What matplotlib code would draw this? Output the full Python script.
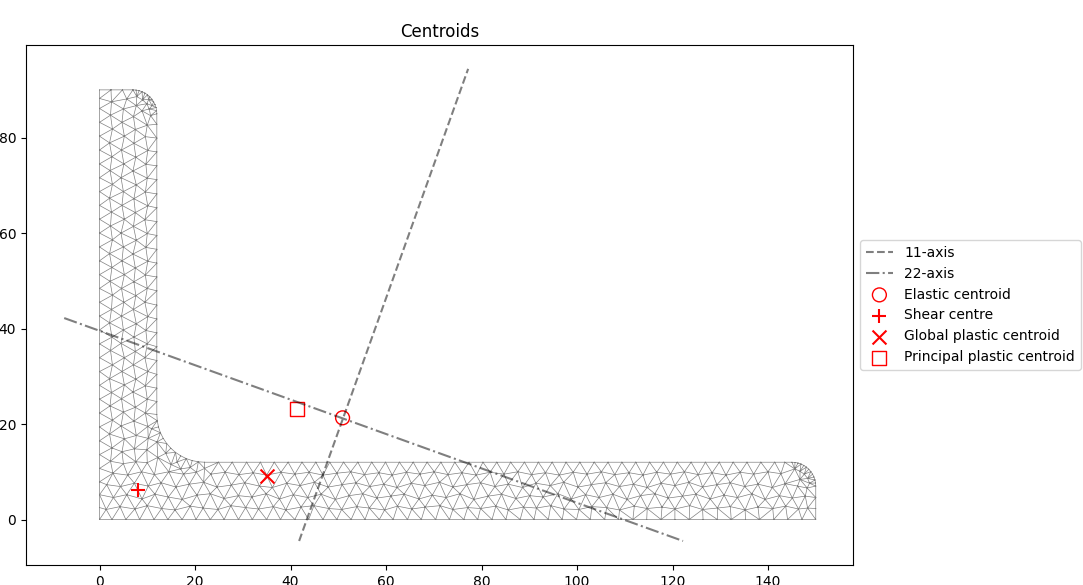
import matplotlib

matplotlib.use("Agg")
import matplotlib.pyplot as plt
import matplotlib.tri as mtri
import numpy as np
from matplotlib.path import Path

# Section outline (x, y)
top_toe_arc = [(7, 90), (7.65, 89.96), (8.29, 89.83), (8.91, 89.62), (9.5, 89.33), (10.04, 88.97), (10.54, 88.54),
               (10.97, 88.04), (11.33, 87.5), (11.62, 86.91), (11.83, 86.29), (11.96, 85.65), (12, 85)]
web_right = [(12, 82.8), (12, 79.9), (12, 77), (12, 74.1), (12, 71.2), (12, 68.2), (12, 65.3), (12, 62.4), (12, 59.5),
             (12, 56.6), (12, 53.7), (12, 50.8), (12, 47.9), (12, 44.9), (12, 42), (12, 39.1), (12, 36.2), (12, 33.3),
             (12, 30.4), (12, 27.5), (12, 24.7)]
root_arc = [(12, 22), (12.09, 20.69), (12.34, 19.41), (12.76, 18.17), (13.34, 17), (14.07, 15.91), (14.93, 14.93),
            (15.91, 14.07), (17, 13.34), (18.17, 12.76), (19.41, 12.34), (20.69, 12.09), (22, 12)]
flange_top = [(24.9, 12), (27.8, 12), (30.8, 12), (33.7, 12), (36.6, 12), (39.5, 12), (42.4, 12), (45.3, 12),
              (48.2, 12), (51.1, 12), (54.1, 12), (57, 12), (59.9, 12), (62.8, 12), (65.7, 12), (68.6, 12), (71.5, 12),
              (74.4, 12), (77.4, 12), (80.3, 12), (83.2, 12), (86.1, 12), (89, 12), (91.9, 12), (94.8, 12), (97.7, 12),
              (100.6, 12), (103.6, 12), (106.5, 12), (109.4, 12), (112.3, 12), (115.2, 12), (118.1, 12), (121, 12),
              (123.9, 12), (126.9, 12), (129.8, 12), (132.7, 12), (135.6, 12), (138.5, 12), (141.4, 12), (143.5, 12)]
right_toe_arc = [(145, 12), (145.65, 11.96), (146.29, 11.83), (146.91, 11.62), (147.5, 11.33), (148.04, 10.97),
                 (148.54, 10.54), (148.97, 10.04), (149.33, 9.5), (149.62, 8.91), (149.83, 8.29), (149.96, 7.65),
                 (150, 7)]
right_edge = [(150, 4.6), (150, 2.3), (150, 0)]
bottom_edge = [(147.1, 0), (144.1, 0), (141.2, 0), (138.2, 0), (135.3, 0), (132.3, 0), (129.4, 0), (126.4, 0),
               (123.5, 0), (120.5, 0), (117.6, 0), (114.6, 0), (111.7, 0), (108.7, 0), (105.8, 0), (102.8, 0),
               (99.9, 0), (96.9, 0), (94, 0), (91, 0), (88.1, 0), (85.1, 0), (82.2, 0), (79.2, 0), (76.3, 0), (73.3, 0),
               (70.4, 0), (67.4, 0), (64.5, 0), (61.5, 0), (58.6, 0), (55.6, 0), (52.7, 0), (49.7, 0), (46.8, 0),
               (43.8, 0), (40.9, 0), (37.9, 0), (35, 0), (32, 0), (29.1, 0), (26.1, 0), (23.2, 0), (20.2, 0), (17.3, 0),
               (14.3, 0), (11.4, 0), (8.4, 0), (5.5, 0), (2.6, 0), (0, 0)]
web_left = [(0, 2.5), (0, 5.2), (0, 7.9), (0, 10.7), (0, 13.6), (0, 16.5), (0, 19.4), (0, 22.3), (0, 25.2), (0, 28.1),
            (0, 31), (0, 33.9), (0, 36.8), (0, 39.7), (0, 42.6), (0, 45.5), (0, 48.4), (0, 51.3), (0, 54.2), (0, 57.1),
            (0, 60), (0, 62.9), (0, 65.8), (0, 68.7), (0, 71.6), (0, 74.5), (0, 77.4), (0, 80.3), (0, 83.2), (0, 86.1),
            (0, 88.2), (0, 90)]
top_edge = [(2.4, 90), (4.8, 90)]

# Interior mesh nodes, estimated by eye
flange_row_1 = [(1.4, 2.1), (4.3, 2.7), (7.4, 2.2), (10, 2.9), (13, 2.3), (15.8, 2), (19, 2.8), (21.7, 2.4), (24.8, 2.1),
                (27.5, 2.9), (30.6, 2.5), (33.3, 2.2), (36.4, 2.7), (39, 2), (42.2, 2.6), (44.9, 2.9), (48, 2.3),
                (50.7, 2.1), (53.9, 2.7), (56.5, 2.4), (59.7, 2), (62.4, 2.8), (65.4, 2.2), (68.2, 2.6), (71.3, 2.9),
                (74, 2.1), (77.1, 2.5), (79.8, 2.3), (83, 2.8), (85.6, 2), (88.8, 2.6), (91.5, 2.4), (94.5, 2.9),
                (97.3, 2.2), (100.4, 2.1), (103.1, 2.7), (106.2, 2.5), (108.9, 2), (112, 2.8), (114.7, 2.3),
                (117.8, 2.6), (120.5, 2.2), (123.6, 2.9), (126.3, 2.1), (129.4, 2.4), (132.1, 2.7), (135.2, 2),
                (137.9, 2.6), (141, 2.3), (143.7, 2.8), (146.4, 2.2), (148.3, 2.4)]
flange_row_2 = [(2.9, 4.6), (5.7, 5.2), (8.9, 4.3), (11.6, 5.3), (14.4, 4.7), (17.3, 4.2), (20.4, 5.1), (23.2, 5.4),
                (26.1, 4.4), (29.1, 5), (31.9, 4.7), (34.9, 5.4), (37.7, 4.3), (40.6, 5.2), (43.6, 4.6), (46.4, 5.3),
                (49.4, 4.2), (52.3, 5), (55.1, 5.4), (58.1, 4.5), (61, 4.9), (63.8, 5.3), (66.9, 4.3), (69.7, 5.1),
                (72.6, 4.6), (75.5, 5.4), (78.4, 4.2), (81.4, 4.9), (84.2, 5.3), (87.2, 4.4), (90.1, 5), (92.9, 4.7),
                (96, 5.4), (98.8, 4.3), (101.8, 5.2), (104.6, 4.6), (107.5, 5.3), (110.5, 4.2), (113.3, 5),
                (116.3, 5.4), (119.1, 4.5), (122.1, 4.9), (124.9, 5.3), (127.9, 4.3), (130.8, 5.1), (133.6, 4.6),
                (136.6, 5.4), (139.4, 4.2), (142.4, 5), (145.1, 4.5), (147.8, 4.9)]
flange_row_3 = [(1.5, 7.3), (4.4, 6.9), (7.3, 7.6), (10.2, 7), (12.9, 7.7), (16, 6.8), (18.8, 7.4), (21.8, 7.8),
                (24.6, 6.8), (27.6, 7.2), (30.4, 7.7), (33.5, 7), (36.2, 6.7), (39.2, 7.6), (42, 7.1), (45, 7.8),
                (47.9, 6.8), (50.8, 7.3), (53.7, 7.7), (56.6, 6.9), (59.5, 7.4), (62.3, 6.7), (65.3, 7.6), (68.1, 7.1),
                (71.2, 7.8), (74, 6.8), (76.9, 7.3), (79.8, 7.7), (82.8, 6.9), (85.6, 7.4), (88.6, 6.7), (91.4, 7.6),
                (94.4, 7.1), (97.2, 7.8), (100.2, 6.8), (103, 7.3), (106, 7.7), (108.9, 6.9), (111.8, 7.4), (114.7, 6.7),
                (117.6, 7.6), (120.5, 7.1), (123.4, 7.8), (126.3, 6.8), (129.3, 7.3), (132.1, 7.7), (135.1, 6.9),
                (137.9, 7.4), (140.9, 6.7), (143.6, 7.5), (146.2, 7), (148.2, 6.6)]
flange_row_4 = [(2.8, 9.7), (5.9, 9.3), (8.8, 10), (11.5, 9.4), (14.5, 10), (17.6, 9.5), (20.3, 9.9), (23.3, 9.5),
                (26.3, 9.9), (29.2, 9.4), (32.2, 9.8), (35, 9.3), (38, 9.9), (40.9, 9.5), (43.9, 9.9), (46.8, 9.3),
                (49.7, 9.7), (52.6, 10), (55.5, 9.4), (58.5, 9.8), (61.3, 9.3), (64.3, 9.9), (67.1, 9.5), (70.1, 10),
                (73, 9.4), (75.9, 9.8), (78.9, 9.3), (81.8, 9.9), (84.7, 9.5), (87.6, 10), (90.5, 9.4), (93.4, 9.8),
                (96.3, 9.3), (99.2, 9.9), (102.1, 9.5), (105.1, 10), (107.9, 9.4), (110.9, 9.8), (113.8, 9.3),
                (116.7, 9.9), (119.6, 9.5), (122.5, 10), (125.4, 9.4), (128.3, 9.8), (131.2, 9.3), (134.2, 9.9),
                (137, 9.5), (140, 10), (142.7, 9.6)]
web_col_1 = [(2.3, 12.2), (2.6, 15), (2.1, 17.9), (2.7, 20.8), (2.2, 23.8), (2.5, 26.6), (2.1, 29.5), (2.7, 32.4),
             (2.3, 35.4), (2.6, 38.2), (2.1, 41.2), (2.5, 44), (2.7, 47), (2.2, 49.9), (2.6, 52.8), (2.1, 55.7),
             (2.7, 58.6), (2.3, 61.5), (2.5, 64.4), (2.1, 67.3), (2.7, 70.2), (2.2, 73.1), (2.6, 76), (2.1, 78.9),
             (2.7, 81.8), (2.3, 84.7), (2.5, 87.5)]
web_col_2 = [(5, 11.7), (4.7, 14.2), (5.2, 16.9), (4.5, 19.6), (5, 22.5), (4.6, 25.3), (5.2, 28.2), (4.7, 31),
             (5.2, 33.9), (4.5, 36.9), (5, 39.7), (4.6, 42.6), (5.1, 45.5), (4.6, 48.4), (5.2, 51.3), (4.7, 54.2),
             (5, 57.1), (4.5, 60), (5.2, 62.9), (4.7, 65.8), (5, 68.7), (4.5, 71.6), (5.1, 74.5), (4.6, 77.4),
             (5.2, 80.3), (4.7, 83.2), (5, 86), (5.7, 88.1)]
web_col_3 = [(7.6, 12.1), (7.3, 14.8), (7.7, 17.6), (7.2, 20.6), (7.5, 23.5), (7, 26.7), (7.6, 29.4), (7.1, 32.4),
             (7.5, 35.2), (7.2, 38.2), (7.7, 41), (7.1, 44), (7.6, 46.9), (7.2, 49.8), (7.5, 52.7), (7, 55.6),
             (7.7, 58.5), (7.1, 61.4), (7.5, 64.3), (7.2, 67.2), (7.7, 70.1), (7, 73), (7.6, 75.9), (7.2, 78.8),
             (7.5, 81.7), (7.1, 84.4), (7.7, 86.7)]
web_col_4 = [(10, 11.9), (9.9, 14.6), (10.1, 19.5), (9.6, 22.3), (10, 25.2), (9.6, 28), (10.1, 31), (9.5, 33.9),
             (10, 36.8), (9.7, 39.6), (10.1, 42.5), (9.5, 45.5), (10, 48.4), (9.6, 51.2), (10.1, 54.1), (9.7, 57),
             (10, 59.9), (9.5, 62.8), (10.1, 65.7), (9.6, 68.6), (10, 71.5), (9.7, 74.4), (10.1, 77.3), (9.6, 80.2),
             (10, 82.6)]
toe_nodes = [(7.8, 88.6), (9, 87.9), (9.9, 87.1), (10.4, 86), (10.7, 84.6), (8.9, 85.6), (10.3, 88), (11, 86.7),
             (145.6, 10.6), (146.7, 10.1), (147.6, 9.5), (148.3, 8.6), (148.7, 7.6), (146.7, 8.4)]
fillet_nodes = [(10.9, 19), (12.04, 16.25), (13.87, 13.87), (16.25, 12.04), (19, 10.9), (22, 10.7), (10.2, 17),
                (12.2, 13), (15, 11.5), (17, 10.6)]

# Axis lines (endpoints of the two principal axes)
axis_11_x = [41.8, 77.2]
axis_11_y = [-4.5, 94.4]
axis_22_x = [-7.4, 122.2]
axis_22_y = [42.2, -4.5]

# Centroids
elastic_centroid = (50.9, 21.3)
shear_centre = (8.1, 6.2)
global_plastic = (35.1, 9.1)
principal_plastic = (41.4, 23.2)

outline = (top_edge + top_toe_arc + web_right + root_arc + flange_top + right_toe_arc + right_edge + bottom_edge
           + web_left)
interior = (flange_row_1 + flange_row_2 + flange_row_3 + flange_row_4 + web_col_1 + web_col_2 + web_col_3 + web_col_4
            + toe_nodes + fillet_nodes)
nodes = np.array(outline + interior)

# Delaunay over the nodes, then drop the triangles that fall outside the section
tri = mtri.Triangulation(nodes[:, 0], nodes[:, 1])
section = Path(np.array(outline + outline[:1]))
centres = nodes[tri.triangles].mean(axis=1)
tri.set_mask(~section.contains_points(centres))

fig = plt.figure(figsize=(10.83, 5.85), dpi=100)
ax = fig.add_axes([26 / 1083, 20 / 585, 827 / 1083, 520 / 585])

ax.triplot(tri, lw=0.5, color="black", alpha=0.5)
ax.plot(axis_11_x, axis_11_y, "k--", alpha=0.5, label="11-axis")
ax.plot(axis_22_x, axis_22_y, "k-.", alpha=0.5, label="22-axis")
ax.scatter(*elastic_centroid, edgecolors="r", facecolors="none", marker="o", s=100, label="Elastic centroid")
ax.scatter(*shear_centre, c="r", marker="+", s=100, label="Shear centre")
ax.scatter(*global_plastic, c="r", marker="x", s=100, label="Global plastic centroid")
ax.scatter(*principal_plastic, edgecolors="r", facecolors="none", marker="s", s=100, label="Principal plastic centroid")

# Limits chosen so both axes have the same scale
ax.set_xlim(-15.4, 157.8)
ax.set_ylim(-9.53, 99.4)
ax.set_title("Centroids")
ax.legend(loc="center left", bbox_to_anchor=(1, 0.5))

fig.savefig("out.png", dpi=100)
plt.close(fig)
